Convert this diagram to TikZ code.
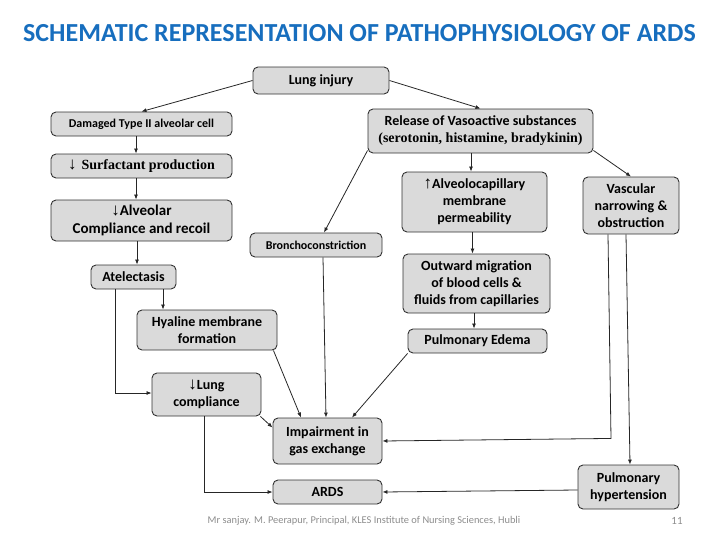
\documentclass[tikz,border=0pt]{standalone}
\usepackage{fontspec}
\setmainfont{Carlito}
\newfontfamily\tnr{Liberation Serif}
\usetikzlibrary{arrows.meta,calc}
\definecolor{boxfill}{RGB}{218,218,218}
\definecolor{boxline}{RGB}{50,50,50}
\definecolor{titleblue}{RGB}{23,110,190}
\definecolor{footgray}{RGB}{140,140,140}
\newcommand{\dnar}{{\tnr\fontsize{17}{17}\selectfont ↓}}
\newcommand{\uparr}{{\tnr\fontsize{17}{17}\selectfont ↑}}
\begin{document}
\begin{tikzpicture}[x=1pt,y=-1pt,
  box/.style={draw=boxline, fill=boxfill, line width=0.9pt, rounded corners=5pt,
    inner sep=0pt, align=center, font=\bfseries\fontsize{14}{17}\selectfont},
  bx/.style 2 args={box, minimum width=#1, minimum height=#2},
  small/.style={font=\bfseries\fontsize{12}{14}\selectfont},
  conn/.style={draw=black!85, line width=0.8pt, -{Latex[length=5pt,width=4pt]}}]
\useasboundingbox (0,0) rectangle (728,546);
\node[font=\bfseries\fontsize{26}{30}\selectfont, text=titleblue] (title) at (359.5,33) {SCHEMATIC REPRESENTATION OF PATHOPHYSIOLOGY OF ARDS};

\node[bx={136pt}{27pt}] (lung) at (321,80.5) {Lung injury};
\node[bx={181pt}{24pt}, small] (dam) at (141.5,124) {Damaged Type II alveolar cell};
\node[bx={181pt}{24pt}] (surf) at (141.5,166) {\dnar\hspace{5pt}{\tnr\bfseries\fontsize{14}{16}\selectfont Surfactant production}};
\node[bx={181pt}{41pt}, font=\bfseries\fontsize{15}{18}\selectfont] (alvc) at (141.5,220.5) {\dnar Alveolar\\Compliance and recoil};
\node[bx={132pt}{24pt}, small] (bron) at (316,245) {Bronchoconstriction};
\node[bx={225pt}{44pt}] (rel) at (480.5,131) {Release of Vasoactive substances\\{\tnr\bfseries (serotonin, histamine, bradykinin)}};
\node[bx={145pt}{60pt}] (perm) at (474.5,202) {\uparr Alveolocapillary\\membrane\\permeability};
\node[bx={96pt}{57pt}] (vasc) at (631,205.5) {Vascular\\narrowing \&\\obstruction};
\node[bx={85pt}{24pt}] (atel) at (133.5,277) {Atelectasis};
\node[bx={140pt}{40pt}] (hyal) at (207,330) {Hyaline membrane\\formation};
\node[bx={109pt}{43pt}] (lcomp) at (206.5,394.5) {\dnar Lung\\compliance};
\node[bx={147pt}{59pt}] (outw) at (476.5,283.5) {Outward migration\\of blood cells \&\\fluids from capillaries};
\node[bx={139pt}{24pt}] (edema) at (477.5,341) {Pulmonary Edema};
\node[bx={109pt}{46pt}] (imp) at (327.5,441) {Impairment in\\gas exchange};
\node[bx={109pt}{24pt}] (ards) at (327.5,492) {ARDS};
\node[bx={101pt}{44pt}] (phyp) at (628.5,487) {Pulmonary\\hypertension};

\node[font=\fontsize{10.4}{12}\selectfont, text=footgray] (foot) at (364,521) {Mr sanjay. M. Peerapur, Principal, KLES Institute of Nursing Sciences, Hubli};
\node[font=\fontsize{11}{13}\selectfont, text=footgray] (pnum) at (677,521) {11};

\draw[conn] (lung.west) -- (dam.north);
\draw[conn] (lung.east) -- (rel.north);
\draw[conn] ([xshift=-5.5pt]dam.south) -- ([xshift=-5.5pt]surf.north);
\draw[conn] ([xshift=-5.5pt]surf.south) -- ([xshift=-5.5pt]alvc.north);
\draw[conn] ([xshift=-4.5pt]alvc.south) -- ([xshift=3.5pt]atel.north);
\draw[conn] ([xshift=29.5pt]atel.south) -- ([xshift=-44pt]hyal.north);
\draw[conn] ([xshift=-18.5pt]atel.south) |- ([yshift=1.5pt]lcomp.west);
\draw[conn] ([xshift=-4pt]hyal.south east) -- ([xshift=28.5pt]imp.north west);
\draw[conn] ([xshift=7pt]bron.south) -- ([xshift=-1.5pt]imp.north);
\draw[conn] (edema.south west) -- ([xshift=24.5pt]imp.north);
\draw[conn] ([xshift=-1pt]lcomp.south east) -- ([yshift=-10pt]imp.north west);
\draw[conn] ([xshift=-2.5pt]lcomp.south) |- (ards.west);
\draw[conn] ([yshift=3pt]rel.south west) -- ([xshift=8pt]bron.north);
\draw[conn] ([xshift=-9.5pt]rel.south) -- ([xshift=-3.5pt]perm.north);
\draw[conn] ([yshift=3pt]rel.south east) -- (vasc.north);
\draw[conn] ([xshift=-2pt]perm.south) -- ([xshift=-4pt]outw.north);
\draw[conn] ([xshift=-2.5pt]outw.south) -- ([xshift=-3.5pt]edema.north);
\draw[conn] ([xshift=-23pt]vasc.south) -- ++(3,204) -- (imp.east);
\draw[conn] ([xshift=-5pt]vasc.south) -- ([xshift=1.5pt]phyp.north);
\draw[conn] ([yshift=-3pt]phyp.west) -- (ards.east);
\end{tikzpicture}
\end{document}
